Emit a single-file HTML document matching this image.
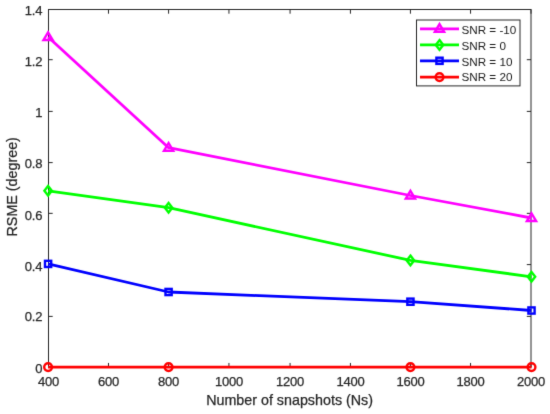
<!DOCTYPE html>
<html><head><meta charset="utf-8"><style>
html,body{margin:0;padding:0;background:#fff;}
body{width:550px;height:414px;overflow:hidden;position:relative;}
svg{position:absolute;left:0;top:0;display:block;}
#w{position:absolute;left:0;top:0;width:550px;height:414px;}
text{font-family:"Liberation Sans",Arial,sans-serif;stroke-width:0.25px;stroke-linejoin:round;}
</style></head><body>
<div id="w"><svg width="550" height="414" viewBox="0 0 550 414">
<defs><filter id="bl" x="0" y="0" width="1" height="1" color-interpolation-filters="sRGB"><feConvolveMatrix order="3" kernelMatrix="0.0100 0.0800 0.0100 0.0800 0.6400 0.0800 0.0100 0.0800 0.0100" edgeMode="duplicate" preserveAlpha="true"/></filter></defs>
<g filter="url(#bl)">
<rect width="550" height="414" fill="#fff"/>
<g stroke="#262626" stroke-width="1" fill="none" shape-rendering="auto">
<rect x="48.5" y="9.5" width="482.5" height="357.64"/>
<line x1="48.50" y1="367.14" x2="48.50" y2="362.94"/>
<line x1="48.50" y1="9.5" x2="48.50" y2="13.7"/>
<line x1="108.47" y1="367.14" x2="108.47" y2="362.94"/>
<line x1="108.47" y1="9.5" x2="108.47" y2="13.7"/>
<line x1="168.59" y1="367.14" x2="168.59" y2="362.94"/>
<line x1="168.59" y1="9.5" x2="168.59" y2="13.7"/>
<line x1="228.95" y1="367.14" x2="228.95" y2="362.94"/>
<line x1="228.95" y1="9.5" x2="228.95" y2="13.7"/>
<line x1="290.07" y1="367.14" x2="290.07" y2="362.94"/>
<line x1="290.07" y1="9.5" x2="290.07" y2="13.7"/>
<line x1="350.43" y1="367.14" x2="350.43" y2="362.94"/>
<line x1="350.43" y1="9.5" x2="350.43" y2="13.7"/>
<line x1="410.43" y1="367.14" x2="410.43" y2="362.94"/>
<line x1="410.43" y1="9.5" x2="410.43" y2="13.7"/>
<line x1="470.55" y1="367.14" x2="470.55" y2="362.94"/>
<line x1="470.55" y1="9.5" x2="470.55" y2="13.7"/>
<line x1="531.00" y1="367.14" x2="531.00" y2="362.94"/>
<line x1="531.00" y1="9.5" x2="531.00" y2="13.7"/>
<line x1="48.5" y1="367.14" x2="52.7" y2="367.14"/>
<line x1="531.0" y1="367.14" x2="526.8" y2="367.14"/>
<line x1="48.5" y1="316.40" x2="52.7" y2="316.40"/>
<line x1="531.0" y1="316.40" x2="526.8" y2="316.40"/>
<line x1="48.5" y1="264.60" x2="52.7" y2="264.60"/>
<line x1="531.0" y1="264.60" x2="526.8" y2="264.60"/>
<line x1="48.5" y1="213.35" x2="52.7" y2="213.35"/>
<line x1="531.0" y1="213.35" x2="526.8" y2="213.35"/>
<line x1="48.5" y1="162.60" x2="52.7" y2="162.60"/>
<line x1="531.0" y1="162.60" x2="526.8" y2="162.60"/>
<line x1="48.5" y1="111.40" x2="52.7" y2="111.40"/>
<line x1="531.0" y1="111.40" x2="526.8" y2="111.40"/>
<line x1="48.5" y1="59.70" x2="52.7" y2="59.70"/>
<line x1="531.0" y1="59.70" x2="526.8" y2="59.70"/>
<line x1="48.5" y1="9.50" x2="52.7" y2="9.50"/>
<line x1="531.0" y1="9.50" x2="526.8" y2="9.50"/>
</g>
<g fill="#262626" stroke="#262626" font-size="13" letter-spacing="-0.23">
<text x="48.50" y="385.5" text-anchor="middle">400</text>
<text x="108.47" y="385.5" text-anchor="middle">600</text>
<text x="168.59" y="385.5" text-anchor="middle">800</text>
<text x="228.95" y="385.5" text-anchor="middle">1000</text>
<text x="290.07" y="385.5" text-anchor="middle">1200</text>
<text x="350.43" y="385.5" text-anchor="middle">1400</text>
<text x="410.43" y="385.5" text-anchor="middle">1600</text>
<text x="470.55" y="385.5" text-anchor="middle">1800</text>
<text x="531.00" y="385.5" text-anchor="middle">2000</text>
<text x="42.2" y="372.85" text-anchor="end">0</text>
<text x="42.2" y="321.40" text-anchor="end">0.2</text>
<text x="42.2" y="271.05" text-anchor="end">0.4</text>
<text x="42.2" y="219.70" text-anchor="end">0.6</text>
<text x="42.2" y="168.15" text-anchor="end">0.8</text>
<text x="42.2" y="116.95" text-anchor="end">1</text>
<text x="42.2" y="65.80" text-anchor="end">1.2</text>
<text x="42.2" y="14.85" text-anchor="end">1.4</text>
</g>
<text x="289.6" y="404.8" text-anchor="middle" fill="#262626" stroke="#262626" font-size="14.3">Number of snapshots (Ns)</text>
<text transform="translate(16.7 186.8) rotate(-90)" x="0" y="0" text-anchor="middle" fill="#262626" stroke="#262626" font-size="14.3">RSME (degree)</text>
<polyline points="48.10,37.00 168.59,147.70 410.43,195.50 531.50,218.00" fill="none" stroke="#ff00ff" stroke-width="2.8" stroke-linejoin="round"/>
<path d="M48.10 32.30 L52.70 40.00 L43.50 40.00 Z" fill="none" stroke="#ff00ff" stroke-width="2.4" stroke-linejoin="miter"/>
<path d="M168.59 143.00 L173.19 150.70 L163.99 150.70 Z" fill="none" stroke="#ff00ff" stroke-width="2.4" stroke-linejoin="miter"/>
<path d="M410.43 190.80 L415.03 198.50 L405.83 198.50 Z" fill="none" stroke="#ff00ff" stroke-width="2.4" stroke-linejoin="miter"/>
<path d="M531.50 213.30 L536.10 221.00 L526.90 221.00 Z" fill="none" stroke="#ff00ff" stroke-width="2.4" stroke-linejoin="miter"/>
<polyline points="48.10,190.80 168.59,207.70 410.43,260.40 531.50,276.80" fill="none" stroke="#00ff00" stroke-width="2.8" stroke-linejoin="round"/>
<path d="M48.10 186.00 L51.80 190.80 L48.10 195.60 L44.40 190.80 Z" fill="none" stroke="#00ff00" stroke-width="2.4" stroke-linejoin="miter"/>
<path d="M168.59 202.90 L172.29 207.70 L168.59 212.50 L164.89 207.70 Z" fill="none" stroke="#00ff00" stroke-width="2.4" stroke-linejoin="miter"/>
<path d="M410.43 255.60 L414.13 260.40 L410.43 265.20 L406.73 260.40 Z" fill="none" stroke="#00ff00" stroke-width="2.4" stroke-linejoin="miter"/>
<path d="M531.50 272.00 L535.20 276.80 L531.50 281.60 L527.80 276.80 Z" fill="none" stroke="#00ff00" stroke-width="2.4" stroke-linejoin="miter"/>
<polyline points="48.10,263.90 168.59,292.00 410.43,301.70 531.50,310.50" fill="none" stroke="#0000ff" stroke-width="2.8" stroke-linejoin="round"/>
<rect x="45.00" y="260.80" width="6.2" height="6.2" fill="none" stroke="#0000ff" stroke-width="2.4"/>
<rect x="165.49" y="288.90" width="6.2" height="6.2" fill="none" stroke="#0000ff" stroke-width="2.4"/>
<rect x="407.33" y="298.60" width="6.2" height="6.2" fill="none" stroke="#0000ff" stroke-width="2.4"/>
<rect x="528.40" y="307.40" width="6.2" height="6.2" fill="none" stroke="#0000ff" stroke-width="2.4"/>
<polyline points="48.10,367.10 168.59,367.10 410.43,367.10 531.50,367.10" fill="none" stroke="#ff0000" stroke-width="2.8" stroke-linejoin="round"/>
<circle cx="48.10" cy="367.10" r="3.9" fill="none" stroke="#ff0000" stroke-width="2.4"/>
<circle cx="168.59" cy="367.10" r="3.9" fill="none" stroke="#ff0000" stroke-width="2.4"/>
<circle cx="410.43" cy="367.10" r="3.9" fill="none" stroke="#ff0000" stroke-width="2.4"/>
<circle cx="531.50" cy="367.10" r="3.9" fill="none" stroke="#ff0000" stroke-width="2.4"/>
<rect x="416.5" y="20.0" width="103.5" height="65.9" fill="#fff" stroke="#262626" stroke-width="1"/>
<line x1="420" y1="28.8" x2="459" y2="28.8" stroke="#ff00ff" stroke-width="2.8"/>
<path d="M439.50 24.10 L444.10 31.80 L434.90 31.80 Z" fill="none" stroke="#ff00ff" stroke-width="2.4" stroke-linejoin="miter"/>
<text x="461.4" y="34.00" fill="#1a1a1a" font-size="11.7">SNR = -10</text>
<line x1="420" y1="44.9" x2="459" y2="44.9" stroke="#00ff00" stroke-width="2.8"/>
<path d="M439.50 40.10 L443.20 44.90 L439.50 49.70 L435.80 44.90 Z" fill="none" stroke="#00ff00" stroke-width="2.4" stroke-linejoin="miter"/>
<text x="461.4" y="49.60" fill="#1a1a1a" font-size="11.7">SNR = 0</text>
<line x1="420" y1="60.8" x2="459" y2="60.8" stroke="#0000ff" stroke-width="2.8"/>
<rect x="436.40" y="57.70" width="6.2" height="6.2" fill="none" stroke="#0000ff" stroke-width="2.4"/>
<text x="461.4" y="66.00" fill="#1a1a1a" font-size="11.7">SNR = 10</text>
<line x1="420" y1="77.1" x2="459" y2="77.1" stroke="#ff0000" stroke-width="2.8"/>
<circle cx="439.50" cy="77.10" r="3.9" fill="none" stroke="#ff0000" stroke-width="2.4"/>
<text x="461.4" y="81.40" fill="#1a1a1a" font-size="11.7">SNR = 20</text>
</g>
</svg></div>
</body></html>
